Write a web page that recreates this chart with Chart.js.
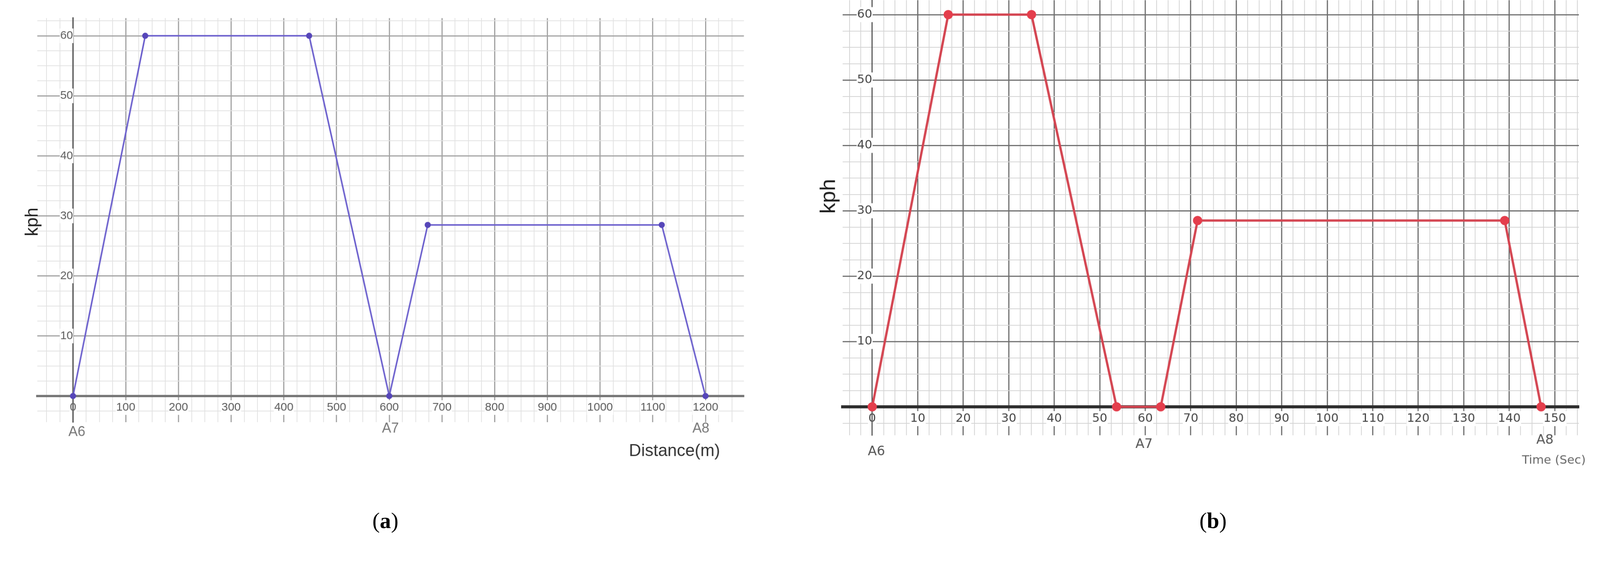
<!DOCTYPE html>
<html>
<head>
<meta charset="utf-8">
<script src="https://cdn.jsdelivr.net/npm/chart.js@4.4.1/dist/chart.umd.min.js"></script>
<style>
  html, body { margin: 0; padding: 0; background: #fff; overflow: hidden; }
  #page { width: 4164px; height: 1448px; position: relative; overflow: hidden; transform-origin: 0 0; }
  .panel { position: absolute; }
  .caption {
    position: absolute; top: 1320px; transform: translateX(-50%);
    font-family: "Liberation Serif", "Times New Roman", serif; font-size: 58px; color: #000;
  }
</style>
</head>
<body>
<div id="page">
  <div class="panel" id="boxA" style="left:-20px; top:0; width:1996px; height:1290px;"><canvas id="chartA"></canvas></div>
  <div class="panel" id="boxB" style="left:2073px; top:-30px; width:2086px; height:1312px;"><canvas id="chartB"></canvas></div>
  <div class="caption" style="left:1003px;">(<b>a</b>)</div>
  <div class="caption" style="left:3157px;">(<b>b</b>)</div>
</div>
<script>
// keep the 4164x1448 figure inside whatever viewport we get
const page = document.getElementById('page');
const fit = Math.min(window.innerWidth / 4164, window.innerHeight / 1448);
if (fit > 0 && fit < 1) page.style.transform = 'scale(' + fit + ')';

// (a) speed against distance
const distA = [0, 137, 448, 600, 673, 1117, 1200];
const kphA = [0, 60, 60, 0, 28.5, 28.5, 0];

// (b) speed against time
const timeB = [0, 16.7, 35, 53.7, 63.4, 71.5, 139, 147];
const kphB = [0, 60, 60, 0, 0, 28.5, 28.5, 0];

// stations and tick labels
const stationNames = ['A6', 'A7', 'A8'];
const stationDistA = [0, 600, 1200];
const stationTimeB = [0, 60, 147];
const distTicks = [0, 100, 200, 300, 400, 500, 600, 700, 800, 900, 1000, 1100, 1200];
const timeTicks = [0, 10, 20, 30, 40, 50, 60, 70, 80, 90, 100, 110, 120, 130, 140, 150];
const kphTicks = [10, 20, 30, 40, 50, 60];

Chart.defaults.animation = false;
Chart.defaults.devicePixelRatio = 1;

const gridValues = (min, max, step) => {
  const vals = [];
  for (let v = Math.ceil(min / step) * step; v <= max + 1e-9; v += step) vals.push(v);
  return vals;
};

const toPoints = (xs, ys) => xs.map((x, i) => ({ x: x, y: ys[i] }));

// station names, axis name and the rotated kph title
const figureText = {
  id: 'figureText',
  afterDraw(chart, args, o) {
    const { ctx, chartArea } = chart;
    const x = chart.scales.x, y = chart.scales.y;
    const base = y.getPixelForValue(0);
    ctx.save();
    ctx.textAlign = 'center';
    ctx.textBaseline = 'middle';

    ctx.font = o.stationFont;
    ctx.fillStyle = o.stationColor;
    o.stations.forEach((pos, i) => {
      ctx.fillText(stationNames[i], x.getPixelForValue(pos) + o.stationDx[i], base + o.stationDy[i]);
    });

    ctx.font = o.nameFont;
    ctx.fillStyle = o.nameColor;
    ctx.textAlign = 'right';
    ctx.fillText(o.name, x.getPixelForValue(o.nameEnd), base + o.nameDy);

    ctx.textAlign = 'center';
    ctx.translate(chartArea.left + o.kphDx, y.getPixelForValue(o.kphAt));
    ctx.rotate(-Math.PI / 2);
    ctx.font = o.kphFont;
    ctx.fillStyle = '#222';
    ctx.fillText('kph', 0, 0);
    ctx.restore();
  }
};

const makeScales = (s) => ({
  x: {
    type: 'linear', min: s.xMin, max: s.xMax, bounds: 'data',
    position: { y: 0 },
    afterBuildTicks: (sc) => { sc.ticks = gridValues(s.xMin, s.xMax, s.xStep).map(v => ({ value: v })); },
    ticks: {
      autoSkip: false, maxRotation: 0, padding: s.xPad, color: s.tickColor,
      font: { family: s.tickFamily, size: s.tickSize },
      showLabelBackdrop: (c) => !!(c.tick && c.tick.label), backdropColor: '#fff', backdropPadding: 1,
      callback: (v) => s.xLabels.includes(v) ? String(v) : ''
    },
    grid: {
      z: -1, drawTicks: false,
      color: (c) => c.tick.value === 0 ? s.yAxisColor : (c.tick.value % s.xMajor === 0 ? s.major : s.minor),
      lineWidth: (c) => c.tick.value === 0 ? s.yAxisWidth : (c.tick.value % s.xMajor === 0 ? s.majorWidth : s.minorWidth)
    },
    border: { color: s.xAxisColor, width: s.xAxisWidth }
  },
  y: {
    type: 'linear', min: s.yMin, max: s.yMax, bounds: 'data',
    position: { x: 0 },
    afterBuildTicks: (sc) => { sc.ticks = gridValues(s.yMin, s.yMax, 2.5).map(v => ({ value: v })); },
    ticks: {
      autoSkip: false, padding: s.yPad, color: s.tickColor,
      font: { family: s.tickFamily, size: s.tickSize },
      showLabelBackdrop: (c) => !!(c.tick && c.tick.label), backdropColor: '#fff', backdropPadding: 1,
      callback: (v) => kphTicks.includes(v) ? String(v) : ''
    },
    grid: {
      z: -1, drawTicks: false,
      color: (c) => c.tick.value === 0 ? s.xAxisColor : (c.tick.value % 10 === 0 ? s.major : s.minor),
      lineWidth: (c) => c.tick.value === 0 ? s.xAxisWidth : (c.tick.value % 10 === 0 ? s.majorWidth : s.minorWidth)
    },
    border: { color: s.yAxisColor, width: s.yAxisWidth }
  }
});

new Chart(document.getElementById('chartA'), {
  type: 'scatter',
  data: {
    datasets: [{
      data: toPoints(distA, kphA),
      showLine: true,
      borderColor: 'rgb(108, 96, 205)',
      borderWidth: 4,
      pointRadius: 8,
      pointBorderWidth: 0,
      pointBackgroundColor: 'rgb(86, 70, 185)'
    }]
  },
  options: {
    responsive: true,
    maintainAspectRatio: false,
    layout: { padding: { left: 117, top: 47, right: 40, bottom: 192 } },
    scales: makeScales({
      xMin: -67.8, xMax: 1272.9, xStep: 25, xMajor: 100, xLabels: distTicks, xPad: 12,
      yMin: -4.36, yMax: 62.95, yPad: 10,
      tickFamily: '"Liberation Sans", Arial, sans-serif', tickSize: 30, tickColor: '#5c5c5c',
      major: '#a2a2a2', minor: '#e2e2e2', majorWidth: 3, minorWidth: 2,
      xAxisColor: '#767676', xAxisWidth: 6, yAxisColor: '#6a6a6a', yAxisWidth: 4
    }),
    plugins: {
      legend: { display: false },
      tooltip: { enabled: false },
      figureText: {
        stations: stationDistA, stationDx: [10, 3, -12], stationDy: [94, 85, 85],
        stationFont: '36px "Liberation Sans", Arial, sans-serif', stationColor: '#777',
        name: 'Distance(m)', nameEnd: 1227.7, nameDy: 144,
        nameFont: '44px "Liberation Sans", Arial, sans-serif', nameColor: '#333',
        kphDx: -12, kphAt: 29, kphFont: '46px "Liberation Sans", Arial, sans-serif'
      }
    }
  },
  plugins: [figureText]
});

new Chart(document.getElementById('chartB'), {
  type: 'scatter',
  data: {
    datasets: [{
      data: toPoints(timeB, kphB),
      showLine: true,
      borderColor: 'rgb(212, 70, 82)',
      borderWidth: 6,
      pointRadius: 12,
      pointBorderWidth: 0,
      pointBackgroundColor: 'rgb(228, 62, 76)'
    }]
  },
  options: {
    responsive: true,
    maintainAspectRatio: false,
    layout: { padding: { left: 120, top: 30, right: 50, bottom: 150 } },
    scales: makeScales({
      xMin: -6.5, xMax: 155.3, xStep: 2.5, xMajor: 10, xLabels: timeTicks, xPad: 12,
      yMin: -4.35, yMax: 62.2, yPad: 12,
      tickFamily: '"DejaVu Sans", sans-serif', tickSize: 31, tickColor: '#444',
      major: '#6e6e6e', minor: '#d4d4d4', majorWidth: 3, minorWidth: 2,
      xAxisColor: '#2e2e2e', xAxisWidth: 8, yAxisColor: '#5a5a5a', yAxisWidth: 3
    }),
    plugins: {
      legend: { display: false },
      tooltip: { enabled: false },
      figureText: {
        stations: stationTimeB, stationDx: [11, -3, 10], stationDy: [117, 98, 87],
        stationFont: '34px "DejaVu Sans", sans-serif', stationColor: '#555',
        name: 'Time (Sec)', nameEnd: 156.8, nameDy: 140,
        nameFont: '31px "DejaVu Sans", sans-serif', nameColor: '#666',
        kphDx: -35, kphAt: 32.2, kphFont: '56px "Liberation Sans", Arial, sans-serif'
      }
    }
  },
  plugins: [figureText]
});
</script>
</body>
</html>
